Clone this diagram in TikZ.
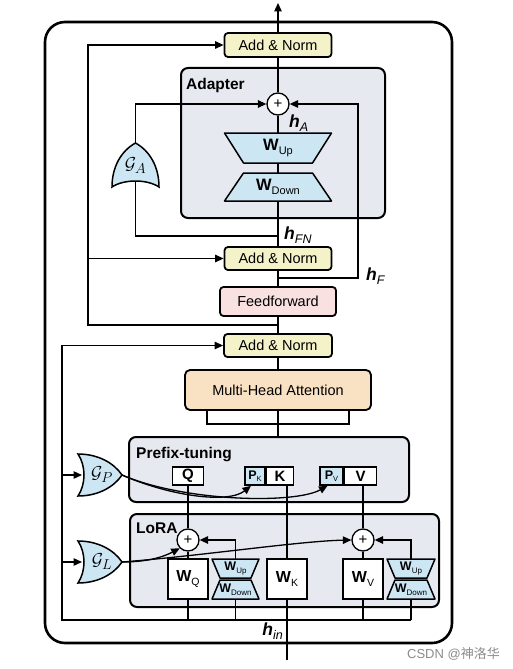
\documentclass[tikz,border=0pt]{standalone}
\usepackage{fontspec}
\setmainfont{Liberation Sans}
\newfontfamily\cjkfont{Noto Sans CJK SC}
\usetikzlibrary{arrows.meta,calc}
\newcommand\myfs[1]{\fontsize{#1}{#1}\selectfont}
\definecolor{anC}{HTML}{F4F2C8}
\definecolor{ffC}{HTML}{F9E1E1}
\definecolor{mhaC}{HTML}{F9E2C3}
\definecolor{panC}{HTML}{E7E9F1}
\definecolor{blC}{HTML}{CDE6F4}
\tikzset{
 box/.style={draw, line width=1.8pt, rounded corners=3.5pt, inner sep=0pt, font=\myfs{14.5}},
 panel/.style={draw, line width=2pt, rounded corners=7pt, fill=panC, inner sep=0pt},
 conn/.style={line width=1.3pt},
 arr/.style={line width=1.3pt, -{Triangle[length=8.5pt,width=7.5pt]}},
 plus/.style={circle, draw, line width=1.3pt, fill=white, inner sep=0pt, minimum size=22pt, font=\myfs{15}},
 sq/.style={draw, line width=1.6pt, fill=white, inner sep=0pt, font=\bfseries\myfs{15}},
 wbox/.style={draw, line width=1.6pt, fill=white, inner sep=0pt, minimum size=40pt, font=\myfs{16}},
 trapst/.style={draw, line width=1.5pt, fill=blC, line join=round},
 gatest/.style={draw, line width=1.5pt, fill=blC},
 hlab/.style={font=\myfs{17.5}, inner sep=0pt},
 plab/.style={font=\bfseries\myfs{15.5}, inner sep=0pt, anchor=north west},
}
\newcommand\hvec[1]{\textbf{\textit{h}}\raisebox{-3.5pt}{\myfs{12.5}\textit{#1}}}
\newcommand\wsub[3]{\raisebox{-#2pt}{\myfs{#1}#3}}
\newcommand\trapz[8]{%
 \path[trapst] ({#2-(#4)/2},{#3-(#6)/2}) -- ({#2+(#4)/2},{#3-(#6)/2}) -- ({#2+(#5)/2},{#3+(#6)/2}) -- ({#2-(#5)/2},{#3+(#6)/2}) -- cycle;
 \node[inner sep=0pt, font=#8] (#1) at (#2,#3) {#7};
 \coordinate (#1-n) at (#2,{#3-(#6)/2});
 \coordinate (#1-s) at (#2,{#3+(#6)/2});
}
\begin{document}
\begin{tikzpicture}[x=1pt,y=-1pt]
\fill[white] (0,0) rectangle (513,669);
\useasboundingbox (0,0) rectangle (513,669);
\node[draw, line width=2.6pt, rounded corners=20pt, minimum width=407pt, minimum height=621pt, inner sep=0pt] (outer) at (248.5,332.5) {};

% panels
\node[panel, minimum width=204pt, minimum height=150pt] (adapter) at (283,143) {};
\node[panel, minimum width=280pt, minimum height=65pt] (prefix) at (269,469.5) {};
\node[panel, minimum width=309pt, minimum height=93pt] (lora) at (284.5,560.5) {};
\node[plab] (adlab) at (186,78) {Adapter};
\node[plab] (prlab) at (136,447) {Prefix-tuning};
\node[plab] (lolab) at (136,523) {LoRA};

% main column
\node[box, fill=anC, minimum width=107pt, minimum height=24pt] (an1) at (278,45) {Add \& Norm};
\node[box, fill=anC, minimum width=107pt, minimum height=23pt] (an2) at (278,258.5) {Add \& Norm};
\node[box, fill=ffC, minimum width=116pt, minimum height=29pt] (ff) at (278,301.5) {Feedforward};
\node[box, fill=anC, minimum width=108pt, minimum height=23pt] (an3) at (278,345.5) {Add \& Norm};
\node[box, fill=mhaC, minimum width=186pt, minimum height=40pt, rounded corners=5pt] (mha) at (278,390) {Multi-Head Attention};

% adapter
\node[plus] (pa) at (278,104) {+};
\trapz{wua}{278}{148}{107}{69}{30}{\textbf{W}\wsub{11}{4}{Up}}{\myfs{16.5}}
\trapz{wda}{278}{187}{69}{107}{28}{\textbf{W}\wsub{11}{4}{Down}}{\myfs{16.5}}

% gate A
\path[gatest] (112,187) .. controls (112,167) and (121,151) .. (135.5,143) .. controls (150,151) and (159,167) .. (159,187) .. controls (147,179) and (124,179) .. (112,187) -- cycle;
\node[inner sep=0pt, font=\myfs{19}] (ga) at (135.5,166) {$\mathcal{G}_A$};
\coordinate (ga-n) at (135.5,143);
\coordinate (ga-s) at (135.5,181);

% gate P
\path[gatest] (78,454) .. controls (98,454) and (114,463) .. (122,475) .. controls (114,487) and (98,496) .. (78,496) .. controls (86,484) and (86,466) .. (78,454) -- cycle;
\node[inner sep=0pt, font=\myfs{19}] (gp) at (102,475) {$\mathcal{G}_P$};
\coordinate (gp-e) at (122,475);
\coordinate (gp-w) at (82,475);

% gate L
\path[gatest] (78,541) .. controls (98,541) and (114,550) .. (122,562) .. controls (114,574) and (98,583) .. (78,583) .. controls (86,571) and (86,553) .. (78,541) -- cycle;
\node[inner sep=0pt, font=\myfs{19}] (gl) at (102,562) {$\mathcal{G}_L$};
\coordinate (gl-e) at (122,562);
\coordinate (gl-w) at (82,562);

% prefix boxes
\node[sq, minimum width=31pt, minimum height=18pt] (q) at (188,476) {Q};
\node[sq, fill=blC, minimum width=20pt, minimum height=18pt, font=\bfseries\myfs{12.5}] (pk) at (255,476) {P\wsub{7.5}{2.5}{\mdseries K}};
\node[sq, minimum width=27pt, minimum height=18pt, anchor=west] (k) at (pk.east) {K};
\node[sq, fill=blC, minimum width=23pt, minimum height=18pt, font=\bfseries\myfs{12.5}] (pv) at (331.5,476) {P\wsub{7.5}{2.5}{\mdseries V}};
\node[sq, minimum width=32pt, minimum height=18pt, anchor=west] (v) at (pv.east) {V};

% lora
\node[plus] (pl1) at (188,540) {+};
\node[plus] (pl2) at (363,540) {+};
\node[wbox] (wq) at (188,579) {\textbf{W}\wsub{10.5}{4}{Q}};
\node[wbox] (wk) at (287,579) {\textbf{W}\wsub{10.5}{4}{K}};
\node[wbox] (wv) at (363,579) {\textbf{W}\wsub{10.5}{4}{V}};
\trapz{wul1}{235.5}{568.5}{47}{31}{19}{\textbf{W}\wsub{8}{3}{Up}}{\myfs{12.5}}
\trapz{wdl1}{235.5}{589.5}{31}{47}{19}{\textbf{W}\wsub{8}{3}{Down}}{\myfs{12.5}}
\trapz{wul2}{411}{568.5}{48}{32}{19}{\textbf{W}\wsub{8}{3}{Up}}{\myfs{12.5}}
\trapz{wdl2}{411}{589.5}{32}{48}{19}{\textbf{W}\wsub{8}{3}{Down}}{\myfs{12.5}}

% connectors
\coordinate (top) at (278,3);
\draw[arr] (an1.north) -- (top);
\draw[conn] (an1.south) -- (pa.north);
\draw[conn] (pa.south) -- (wua-n);
\draw[conn] (wua-s) -- (wda-n);
\draw[conn] (wda-s) -- (an2.north);
\coordinate (hfn) at (278,236);
\draw[conn] (hfn) -| (ga-s);
\draw[arr] (ga-n) |- (pa.west);
\coordinate (hf) at (278,278);
\coordinate (hfr) at (358,278);
\draw[arr] (hf) -- (hfr) |- (pa.east);
\draw[conn] (an2.south) -- (ff.north);
\draw[conn] (ff.south) -- (an3.north);
\draw[conn] (an3.south) -- (mha.north);
\coordinate (res1) at (278,325);
\coordinate (lx) at (88,325);
\draw[arr] (res1) -- (lx) |- (an1.west);
\draw[arr] (lx |- an2.west) -- (an2.west);
\draw[conn] (mha.south) -- (mha.south |- prefix.north);
\draw[conn] ([xshift=23pt]mha.south west) -- ++(0,13) -| ([xshift=-23pt]mha.south east);

\draw[conn] (q.south) -- (pl1.north);
\draw[conn] (pl1.south) -- (wq.north);
\draw[conn] (wk.north) -- (wk.north |- k.south);
\draw[conn] (pl2.north |- v.south) -- (pl2.north);
\draw[conn] (pl2.south) -- (wv.north);
\draw[arr] (wul1-n) |- (pl1.east);
\draw[arr] (wul2-n) |- (pl2.east);

\coordinate (busL) at (62,620);
\coordinate (busR) at (411,620);
\draw[arr] (busR) -- (busL) |- (an3.west);
\draw[conn] (wq.south) -- (wq.south |- busL);
\draw[conn] (wdl1-s) -- (wdl1-s |- busL);
\draw[conn] (wv.south) -- (wv.south |- busL);
\draw[conn] (wdl2-s) -- (busR);
\coordinate (hin) at (287,660);
\draw[conn] (hin) -- (wk.south);
\draw[arr] (busL |- gp-w) -- (gp-w);
\draw[arr] (busL |- gl-w) -- (gl-w);

\draw[arr] (gp-e) .. controls (170,496) and (228,504) .. ([xshift=-4pt]pk.south);
\draw[arr] (gp-e) .. controls (185,502) and (295,504) .. ([xshift=-4pt]pv.south);
\draw[arr] (gl-e) .. controls (150,562) and (165,556) .. (pl1.south west);
\draw[arr] (gl-e) .. controls (200,556) and (300,541) .. (pl2.west);

% labels
\node[hlab, anchor=west] (lha) at (289,123) {\hvec{A}};
\node[hlab, anchor=west] (lhfn) at (284,235) {\hvec{FN}};
\node[hlab, anchor=west] (lhf) at (366,276) {\hvec{F}};
\node[hlab, anchor=east] (lhin) at (283,631) {\hvec{in}};
\node[text=black!45, font=\myfs{13}, anchor=east, inner sep=0pt] (wm) at (500,654) {CSDN @{\cjkfont 神洛华}};
\end{tikzpicture}
\end{document}
